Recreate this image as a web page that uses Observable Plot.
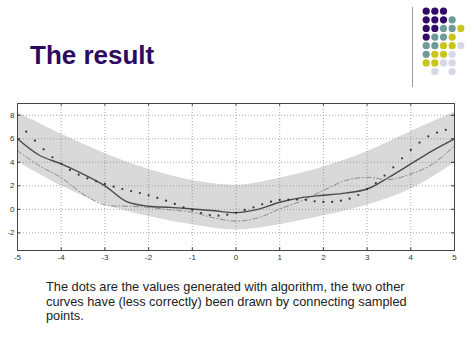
<!DOCTYPE html>
<html>
<head>
<meta charset="utf-8">
<script src="https://cdn.jsdelivr.net/npm/d3@7"></script>
<script src="https://cdn.jsdelivr.net/npm/@observablehq/plot@0.6"></script>
<style>
  html, body { margin: 0; padding: 0; background: #fff; }
  body { width: 474px; height: 355px; position: relative; overflow: hidden; font-family: "Liberation Sans", Arial, sans-serif; }
  #title { position: absolute; left: 30px; top: 40px; font-size: 26px; font-weight: bold; color: #2c0a5e; }
  #vline { position: absolute; left: 412px; top: 7px; width: 1px; height: 80px; background: #9a9a9a; }
  #deco { position: absolute; left: 420px; top: 5px; }
  #chart { position: absolute; left: 0; top: 95px; }
  #caption { position: absolute; left: 46px; top: 280px; font-size: 12.8px; line-height: 14.5px; color: #222; }
  #caption div { height: 14.5px; white-space: nowrap; }
</style>
</head>
<body>
<div id="title">The result</div>
<div id="vline"></div>
<div id="deco"></div>
<div id="chart"></div>
<div id="caption"><div>The dots are the values generated with algorithm, the two other</div><div>curves have (less correctly) been drawn by connecting sampled</div><div>points.</div></div>
<script>
// ---- data ----
const bandX     = [-5, -4, -3, -2, -1, 0, 1, 2, 3, 4, 5];
const bandUpper = [8.26, 6.4, 4.75, 3.4, 2.45, 2.05, 2.65, 3.6, 4.9, 6.6, 8.25];
const bandLower = [4.05, 2.0, 0.4, -0.6, -1.3, -1.75, -1.3, -0.55, 0.35, 1.7, 3.95];

const lineX     = [-5, -4.5, -4, -3.5, -3, -2.5, -2, -1.5, -1, -0.5, 0, 0.5, 1, 1.5, 2, 2.5, 3, 3.5, 4, 4.5, 5];
const solidY    = [6.0, 4.6, 3.86, 3.0, 2.0, 0.65, 0.26, 0.17, 0.03, -0.12, -0.28, 0.0, 0.6, 1.0, 1.2, 1.38, 1.73, 2.73, 3.86, 5.0, 6.0];
const dashY     = [5.0, 3.7, 2.7, 1.3, 0.37, 0.27, 0.17, -0.05, -0.25, -0.73, -1.0, -0.73, 0.03, 0.72, 1.6, 2.44, 2.72, 2.53, 3.0, 3.86, 5.4];

const dotX = [-4.8, -4.6, -4.4, -4.2, -4.0, -3.8, -3.6, -3.4, -3.2, -3.0, -2.8, -2.6, -2.4, -2.2, -2.0, -1.8, -1.6, -1.4, -1.2, -1.0, -0.8, -0.6, -0.4, -0.2, 0.0,
              0.2, 0.4, 0.6, 0.8, 1.0, 1.2, 1.4, 1.6, 1.8, 2.0, 2.2, 2.4, 2.6, 2.8, 3.0, 3.2, 3.4, 3.6, 3.8, 4.0, 4.2, 4.4, 4.6, 4.8];
const dotY = [6.6, 5.85, 5.1, 4.43, 3.89, 3.35, 2.95, 2.64, 2.38, 2.16, 1.93, 1.73, 1.56, 1.39, 1.19, 0.97, 0.74, 0.46, 0.17, -0.05, -0.31, -0.48, -0.54, -0.45, -0.3,
              -0.05, 0.17, 0.43, 0.65, 0.8, 0.83, 0.83, 0.8, 0.68, 0.63, 0.63, 0.74, 0.91, 1.22, 1.73, 2.24, 2.87, 3.57, 4.34, 5.05, 5.68, 6.21, 6.53, 6.76];

const xTicks = [-5, -4, -3, -2, -1, 0, 1, 2, 3, 4, 5];
const yTicks = [-2, 0, 2, 4, 6, 8];
const xDomain = [-5, 5];
const yDomain = [-3.5, 9];

// decorative dot pattern (rows of colour codes)
const decoRows = ["PPP", "PPPT", "PPTTY", "PTTY", "TTYYL", "TYYL", "YYLL", " L L"];
const decoColors = {P: "#330b66", T: "#6e9b99", Y: "#c9c51d", L: "#d5d8e5"};

// ---- build tables ----
const band = bandX.map((x, i) => ({x, lo: bandLower[i], hi: bandUpper[i]}));
const solid = lineX.map((x, i) => ({x, y: solidY[i]}));
const dash = lineX.map((x, i) => ({x, y: dashY[i]}));
const dots = dotX.map((x, i) => ({x, y: dotY[i]}));

const tickLen = 0.22;
const tickLenX = 0.07;

const chart = Plot.plot({
  width: 474,
  height: 170,
  marginLeft: 17,
  marginRight: 20,
  marginTop: 8,
  marginBottom: 15,
  style: {fontFamily: "'Liberation Sans', Arial, sans-serif", fontSize: "8px", color: "#333", background: "transparent"},
  x: {domain: xDomain, ticks: xTicks, label: null},
  y: {domain: yDomain, ticks: yTicks, label: null},
  marks: [
    Plot.areaY(band, {x: "x", y1: "lo", y2: "hi", fill: "#d9d9d9", curve: "catmull-rom"}),
    Plot.gridX(xTicks, {stroke: "#888", strokeOpacity: 0.9, strokeDasharray: "1,2", strokeWidth: 0.8}),
    Plot.gridY(yTicks, {stroke: "#888", strokeOpacity: 0.9, strokeDasharray: "1,2", strokeWidth: 0.8}),
    Plot.line(dash, {x: "x", y: "y", stroke: "#8a8a8a", strokeWidth: 1, strokeDasharray: "5,2.5,1,2.5", curve: "catmull-rom"}),
    Plot.line(solid, {x: "x", y: "y", stroke: "#4a4a4a", strokeWidth: 1.4, curve: "catmull-rom"}),
    Plot.dot(dots, {x: "x", y: "y", r: 1.1, fill: "#333", stroke: null}),
    // inward tick marks on all four sides
    Plot.ruleX(xTicks, {x: d => d, y1: yDomain[0], y2: yDomain[0] + tickLen, stroke: "#333"}),
    Plot.ruleX(xTicks, {x: d => d, y1: yDomain[1], y2: yDomain[1] - tickLen, stroke: "#333"}),
    Plot.ruleY(yTicks, {y: d => d, x1: xDomain[0], x2: xDomain[0] + tickLenX, stroke: "#333"}),
    Plot.ruleY(yTicks, {y: d => d, x1: xDomain[1], x2: xDomain[1] - tickLenX, stroke: "#333"}),
    Plot.frame({stroke: "#444", strokeWidth: 1}),
    Plot.axisX(xTicks, {tickSize: 0, tickPadding: 4, tickFormat: d => String(d), fill: "#333", label: null}),
    Plot.axisY(yTicks, {tickSize: 0, tickPadding: 3, tickFormat: d => String(d), fill: "#333", label: null})
  ]
});
document.getElementById("chart").appendChild(chart);

// decorative dots
const decoData = [];
decoRows.forEach((row, r) => {
  [...row].forEach((c, col) => { if (c !== " ") decoData.push({col, row: r, c}); });
});
const deco = Plot.plot({
  width: 46,
  height: 72,
  marginLeft: 5.7, marginRight: 5.7, marginTop: 5.7, marginBottom: 6,
  x: {domain: [0, 4], axis: null},
  y: {domain: [0, 7], reverse: true, axis: null},
  style: {background: "transparent"},
  marks: [
    Plot.dot(decoData, {x: "col", y: "row", r: 3.6, fill: d => decoColors[d.c], stroke: null})
  ]
});
document.getElementById("deco").appendChild(deco);
</script>
</body>
</html>
